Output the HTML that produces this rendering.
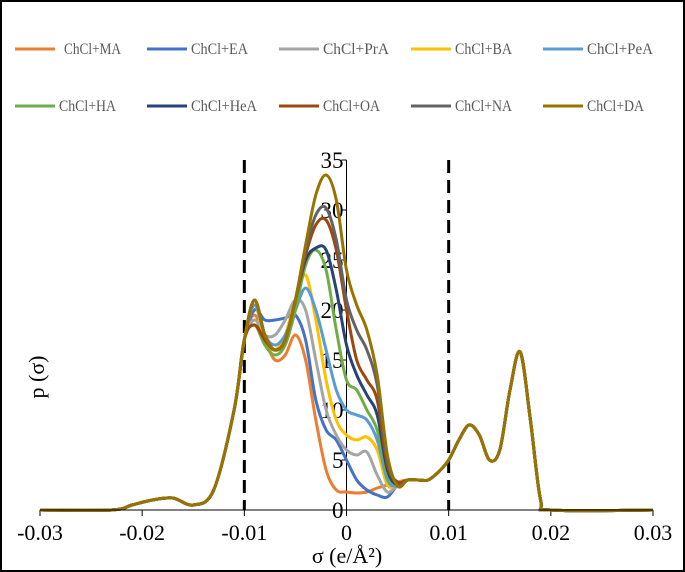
<!DOCTYPE html>
<html><head><meta charset="utf-8"><style>
body{margin:0;background:#fff}
#wrap{position:relative;width:685px;height:572px;box-sizing:border-box;border:2px solid #000;overflow:hidden}
svg{position:absolute;left:0;top:0}
</style></head><body>
<div id="wrap">
<svg id="chart" width="685" height="572"></svg>
</div>
<script>
const xs=[-0.03,-0.023,-0.021,-0.019,-0.017,-0.015,-0.013,-0.011,-0.01,-0.009,-0.008,-0.007,-0.006,-0.005,-0.004,-0.003,-0.002,-0.001,0,0.001,0.002,0.003,0.004,0.005,0.006,0.007,0.008,0.009,0.01,0.011,0.012,0.013,0.014,0.015,0.016,0.017,0.018,0.019,0.02,0.03];
const leftTail=[0,0,0.5,1.0,1.2,0.5,2,10,17];
const rightTail=[3,3,3,3.8,5,7,8.5,7.5,5,6,12,15.8,9,1,0,0];
const seriesNames=["ChCl+MA","ChCl+EA","ChCl+PrA","ChCl+BA","ChCl+PeA","ChCl+HA","ChCl+HeA","ChCl+OA","ChCl+NA","ChCl+DA"];
const seriesColors=["#ED7D31","#4472C4","#A5A5A5","#FFC000","#5B9BD5","#70AD47","#264478","#9E480E","#636363","#997300"];
const midMA=[19.5,17,15,15.5,17.5,15,9,4,2,1.8,1.7,1.8,2.2,2.5,2.8];
const midEA=[20,19,19,19.2,19.5,17,11,8,7,5,3,2,1.5,1.3,2.5];
const midPrA=[19,17.5,17.5,19,21,20,15,10,7.5,6,5.5,5.8,3.5,1.8,2.5];
const midBA=[20.5,17,16,17.5,21,23.5,19,13,9,7.5,7,7.3,6,2.5,2.6];
const midPeA=[20.5,17.5,16.5,17.5,20,22.2,20,16,12,10,9.5,9,7,3,2.4];
const midHA=[18.5,16.5,15.5,16.5,20,24.5,26,24,18,13,12,10,8,3.5,2.5];
const midHeA=[21,17.5,16,17,21,25,26.2,26,22,16.5,13.5,11.5,9.5,4,2.5];
const midOA=[18.5,17,16,17,21,25.5,28.5,29,26,20,15,13,11,4.5,2.8];
const midNA=[21,17.5,16,17,21,26,29.5,30.2,27,21,18,16,12.5,5,2.5];
const midDA=[21,17.5,16,17,21,26.5,31.5,33.5,31,24,20.5,18,13.5,5.5,2.4];
const mids=[midMA,midEA,midPrA,midBA,midPeA,midHA,midHeA,midOA,midNA,midDA];
const xTicks=[-0.03,-0.02,-0.01,0,0.01,0.02,0.03];
const xTickLabels=["-0.03","-0.02","-0.01","0","0.01","0.02","0.03"];
const yTicks=[0,5,10,15,20,25,30,35];

const NS="http://www.w3.org/2000/svg";
const svg=document.getElementById('chart');
const X=v=>344.5+v*10217;
const Y=v=>508-v*10;
function mk(tag,attrs,parent){const e=document.createElementNS(NS,tag);for(const k in attrs)e.setAttribute(k,attrs[k]);(parent||svg).appendChild(e);return e;}

// legend
seriesNames.forEach((n,i)=>{
  const row=Math.floor(i/5),col=i%5;
  const y=row?104:47, lx=13+col*132;
  const g=mk('g',{});
  
  
  mk('line',{x1:lx,x2:lx+40,y1:y,y2:y,stroke:seriesColors[i],'stroke-width':3},g);
  const t=mk('text',{x:lx+(row===0&&col===0?49:44),y:y+5,'font-family':'Liberation Serif, serif','font-size':'16','textLength':n.length>7?'66':'57','lengthAdjust':'spacingAndGlyphs',fill:'#595959'},g);
  t.textContent=n;
});

// dashed lines
[-0.01,0.01].forEach(v=>{
  const l=mk('line',{x1:X(v),x2:X(v),y1:158,y2:508,stroke:'#000','stroke-width':3,'stroke-dasharray':'13,7'});
  
  
});

// axes
const ya=mk('line',{x1:X(0),x2:X(0),y1:Y(35),y2:Y(0),stroke:'#000','stroke-width':1});


yTicks.forEach(v=>{
  mk('line',{x1:X(0)-5,x2:X(0),y1:Y(v),y2:Y(v),stroke:'#000'});
  const t=mk('text',{x:X(0)-3,y:Y(v)+8,'text-anchor':'end','font-family':'Liberation Serif, serif','font-size':'23',fill:'#000'});
  
  
  t.textContent=v;
});
xTicks.forEach((v,i)=>{
  mk('line',{x1:X(v),x2:X(v),y1:508,y2:514,stroke:'#000'});
  const t=mk('text',{x:X(v),y:538,'text-anchor':'middle','font-family':'Liberation Serif, serif','font-size':'22',fill:'#000'});
  
  
  t.textContent=xTickLabels[i];
});

// series
function path(pts){
  let d='M'+pts[0][0]+','+pts[0][1];
  for(let i=0;i<pts.length-1;i++){
    const p0=pts[Math.max(i-1,0)],p1=pts[i],p2=pts[i+1],p3=pts[Math.min(i+2,pts.length-1)];
    const c1=[p1[0]+(p2[0]-p0[0])/6,p1[1]+(p2[1]-p0[1])/6];
    const c2=[p2[0]-(p3[0]-p1[0])/6,p2[1]-(p3[1]-p1[1])/6];
    d+=' C'+c1[0].toFixed(1)+','+c1[1].toFixed(1)+' '+c2[0].toFixed(1)+','+c2[1].toFixed(1)+' '+p2[0].toFixed(1)+','+p2[1].toFixed(1);
  }
  return d;
}
mids.forEach((m,i)=>{
  const vals=leftTail.concat(m,rightTail);
  const pts=xs.map((x,j)=>[X(x),Y(vals[j])]);
  const p=mk('path',{d:path(pts),fill:'none',stroke:seriesColors[i],'stroke-width':3,'stroke-linejoin':'round'});
  
  
});

const xa=mk('line',{x1:X(-0.03),x2:X(0.03),y1:508,y2:508,stroke:'#000','stroke-width':1});



const xt=mk('text',{x:345,y:561,'text-anchor':'middle','font-family':'Liberation Serif, serif','font-size':'22',fill:'#000'});


xt.textContent='σ (e/Å²)';
const yt=mk('text',{x:0,y:0,transform:'translate(42,375) rotate(-90)','text-anchor':'middle','font-family':'Liberation Serif, serif','font-size':'22',fill:'#000'});


yt.textContent='p (σ)';
</script>
</body></html>
